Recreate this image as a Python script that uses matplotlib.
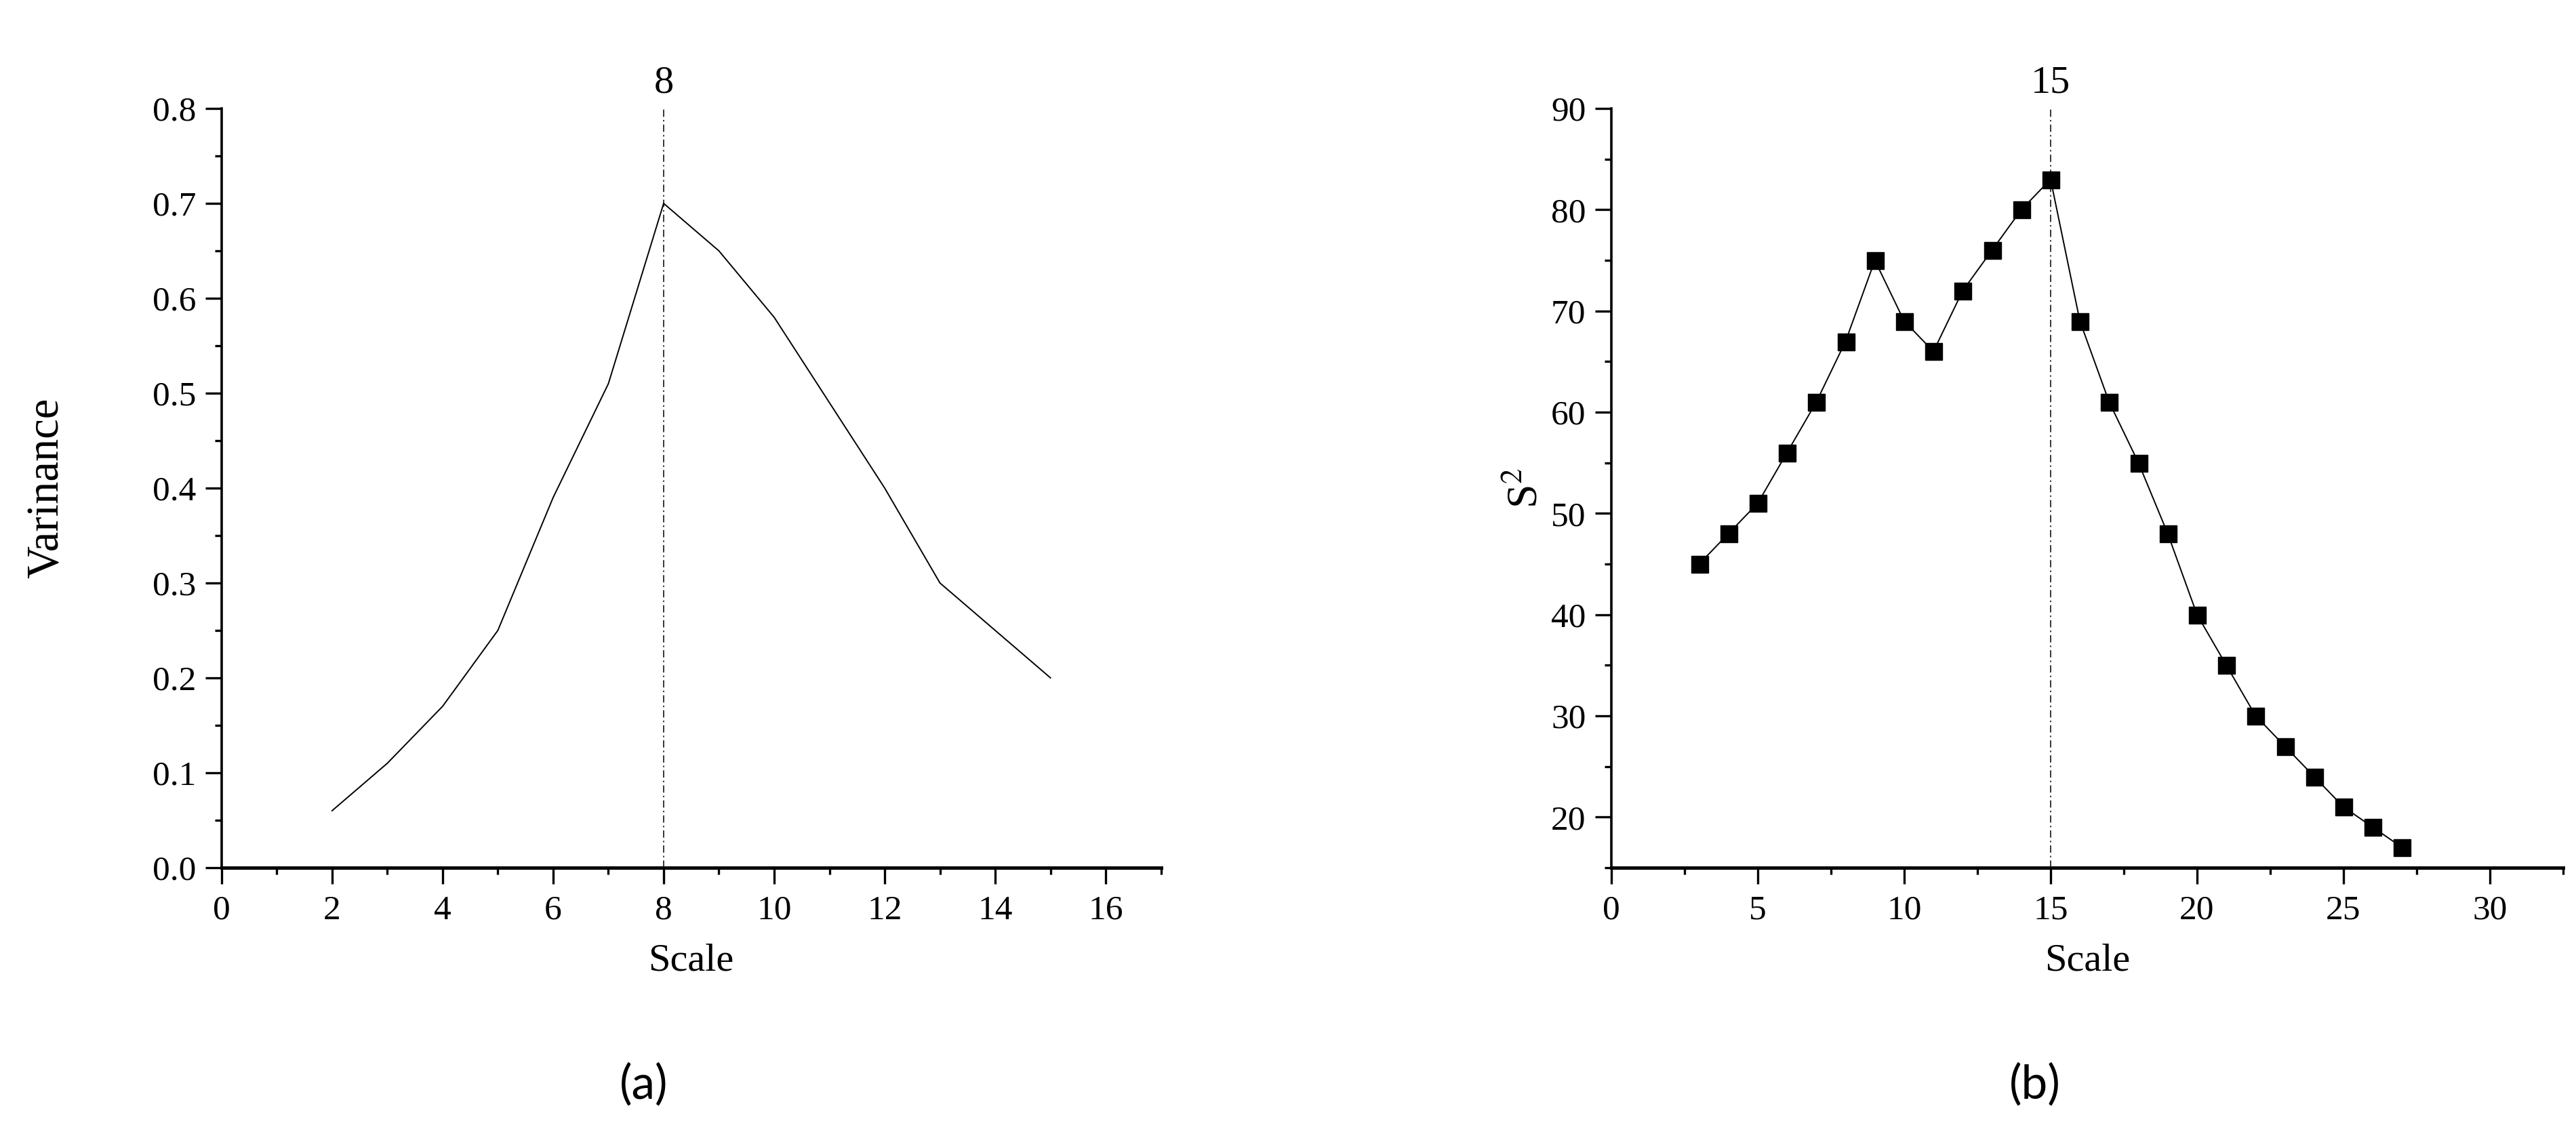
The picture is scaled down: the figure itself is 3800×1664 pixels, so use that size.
import matplotlib.pyplot as plt
from matplotlib.ticker import MultipleLocator

# (a) variance vs scale
scale_a = [2, 3, 4, 5, 6, 7, 8, 9, 10, 11, 12, 13, 14, 15]
variance_a = [0.06, 0.11, 0.17, 0.25, 0.39, 0.51, 0.70, 0.65, 0.58, 0.49, 0.40, 0.30, 0.25, 0.20]
peak_a = 8

# (b) S^2 vs scale
scale_b = [3, 4, 5, 6, 7, 8, 9, 10, 11, 12, 13, 14, 15, 16, 17, 18, 19, 20,
           21, 22, 23, 24, 25, 26, 27]
s2_b = [45, 48, 51, 56, 61, 67, 75, 69, 66, 72, 76, 80, 83, 69, 61, 55, 48, 40,
        35, 30, 27, 24, 21, 19, 17]
peak_b = 15

plt.rcParams['font.family'] = ['Liberation Serif', 'DejaVu Serif']
plt.rcParams['mathtext.fontset'] = 'stix'

fig = plt.figure(figsize=(38, 16.64), dpi=100)
ax1 = fig.add_axes([0.086, 0.2308, 0.3647, 0.673])
ax2 = fig.add_axes([0.6255, 0.2308, 0.3695, 0.673])


def style(ax):
    for s in ['top', 'right']:
        ax.spines[s].set_visible(False)
    ax.spines['left'].set_linewidth(2.6)
    ax.spines['bottom'].set_linewidth(3.6)
    ax.tick_params(which='major', direction='out', length=17, width=2.4,
                   labelsize=37, pad=10)
    ax.tick_params(which='minor', direction='out', length=7, width=2.4)
    ax.tick_params(axis='x', which='major', pad=12)


def peak_line(ax, x, ytop):
    ax.axvline(x, color='black', lw=1.1, dashes=(7, 3, 1.5, 3))
    ax.annotate(str(x), xy=(x, ytop), xytext=(0, 8), textcoords='offset points',
                ha='center', va='bottom', fontsize=42, annotation_clip=False)


# left panel
ax1.plot(scale_a, variance_a, color='black', lw=1.4)
ax1.set_xlim(0, 17)
ax1.set_ylim(0, 0.8)
ax1.xaxis.set_major_locator(MultipleLocator(2))
ax1.xaxis.set_minor_locator(MultipleLocator(1))
ax1.yaxis.set_major_locator(MultipleLocator(0.1))
ax1.yaxis.set_minor_locator(MultipleLocator(0.05))
ax1.yaxis.set_major_formatter(lambda v, p: f'{v:.1f}')
style(ax1)
peak_line(ax1, peak_a, 0.8)
ax1.set_xlabel('Scale', fontsize=42)
ax1.set_ylabel('Varinance', fontsize=48)
ax1.xaxis.set_label_coords(0.5, -0.1)
ax1.yaxis.set_label_coords(-0.164, 0.5)

# right panel
ax2.plot(scale_b, s2_b, color='black', lw=1.4, marker='s', markersize=18)
ax2.set_xlim(0, 32.5)
ax2.set_ylim(15, 90)
ax2.xaxis.set_major_locator(MultipleLocator(5))
ax2.xaxis.set_minor_locator(MultipleLocator(2.5))
ax2.yaxis.set_major_locator(MultipleLocator(10))
ax2.yaxis.set_minor_locator(MultipleLocator(5))
style(ax2)
peak_line(ax2, peak_b, 90)
ax2.set_xlabel('Scale', fontsize=42)
ax2.set_ylabel('S$^2$', fontsize=46)
ax2.xaxis.set_label_coords(0.5, -0.1)
ax2.yaxis.set_label_coords(-0.068, 0.5)

fig.text(0.25, 0.038, '(a)', ha='center', va='center', fontsize=50, family='Lato')
fig.text(0.79, 0.038, '(b)', ha='center', va='center', fontsize=50, family='Lato')

fig.savefig('out.png', dpi=100, facecolor='white')
